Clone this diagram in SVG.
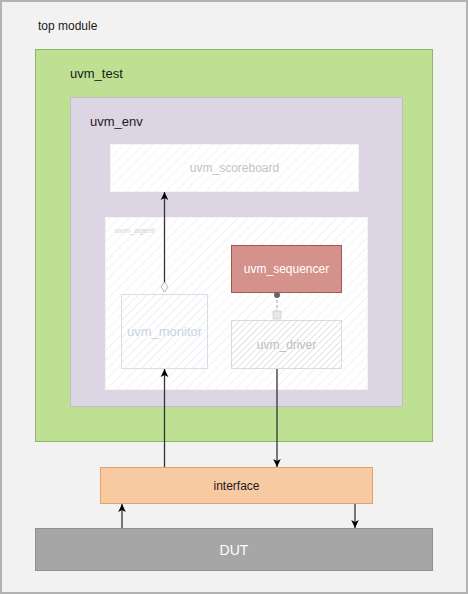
<svg xmlns="http://www.w3.org/2000/svg" width="468" height="594" viewBox="0 0 468 594">
<style>
text{font-family:"Liberation Sans",Arial,sans-serif;}
.lbl{font-size:12px;fill:#1a1a1a;}
.ctr{text-anchor:middle;dominant-baseline:central;}
.conn{stroke:#333;stroke-width:1.3;fill:none;}
</style>
<defs>
<pattern id="hAgent" patternUnits="userSpaceOnUse" width="7" height="7" patternTransform="rotate(45)">
<rect width="7" height="7" fill="#ffffff"/><line x1="0" y1="0" x2="0" y2="7" stroke="#e6e6e6" stroke-width="1"/>
</pattern>
<pattern id="hScore" patternUnits="userSpaceOnUse" width="7" height="7" patternTransform="rotate(45)">
<rect width="7" height="7" fill="#ffffff"/><line x1="0" y1="0" x2="0" y2="7" stroke="#ececec" stroke-width="1"/>
</pattern>
<pattern id="hMon" patternUnits="userSpaceOnUse" width="6" height="6" patternTransform="rotate(45)">
<rect width="6" height="6" fill="#ffffff"/><line x1="0" y1="0" x2="0" y2="6" stroke="#d8e0ea" stroke-width="1"/>
</pattern>
<pattern id="hDrv" patternUnits="userSpaceOnUse" width="4.5" height="4.5" patternTransform="rotate(45)">
<line x1="0" y1="0" x2="0" y2="4.5" stroke="#c6c6c6" stroke-width="1"/>
</pattern>
<marker id="arr" markerWidth="10" markerHeight="10" refX="9" refY="5" orient="auto" markerUnits="userSpaceOnUse">
<path d="M1,1.2 L9,5 L1,8.8 L3,5 Z" fill="#000"/>
</marker>
<marker id="dia" markerWidth="12" markerHeight="12" refX="1" refY="6" orient="auto" markerUnits="userSpaceOnUse">
<path d="M1,6 L6,2.5 L11,6 L6,9.5 Z" fill="#fafafa" stroke="#bbbbbb" stroke-width="1"/>
</marker>
<marker id="dot" markerWidth="10" markerHeight="10" refX="5" refY="5" orient="auto" markerUnits="userSpaceOnUse">
<circle cx="5" cy="5" r="3" fill="#666"/>
</marker>
<marker id="sq" markerWidth="10" markerHeight="10" refX="9" refY="5" orient="auto" markerUnits="userSpaceOnUse">
<rect x="1" y="1" width="8" height="8" fill="#e6e6e6" stroke="#d0d0d0" stroke-width="0.8"/>
</marker>
</defs>
<rect x="0" y="0" width="468" height="594" fill="#f2f2f2"/>
<rect x="1" y="1" width="466" height="592" fill="none" stroke="#b3b3b3" stroke-width="2"/>
<g id="top_module">
<text x="38" y="30" class="lbl">top module</text>
</g>
<g id="uvm_test">
<rect x="35.5" y="49.5" width="397" height="392" fill="#bde092" stroke="#8fb56a" stroke-width="1"/>
<text x="70" y="78" class="lbl" style="font-size:13px">uvm_test</text>
</g>
<g id="uvm_env">
<rect x="70.5" y="97.5" width="332" height="309" fill="#dcd6e4" stroke="#c3bdc9" stroke-width="1"/>
<text x="90" y="126" class="lbl" style="font-size:13px">uvm_env</text>
</g>
<g id="uvm_scoreboard">
<rect x="110.5" y="144.5" width="248" height="47" fill="url(#hScore)" stroke="#f4f4f4" stroke-width="1"/>
<text x="234.5" y="168" class="ctr" style="font-size:12px;fill:#c4c4c4">uvm_scoreboard</text>
</g>
<g id="uvm_agent">
<rect x="105.5" y="217.5" width="262" height="172" fill="url(#hAgent)" stroke="#f4f4f4" stroke-width="1"/>
<text x="115" y="233" style="font-size:8px;fill:#c8d4e0">uvm_agent</text>
</g>
<g id="uvm_sequencer">
<rect x="231.5" y="245.5" width="110" height="47" fill="#d5928c" stroke="#a65550" stroke-width="1"/>
<text x="286.5" y="269" class="ctr" style="font-size:12px;fill:#ffffff">uvm_sequencer</text>
</g>
<g id="uvm_monitor">
<rect x="121.5" y="294.5" width="86" height="74" fill="url(#hMon)" stroke="#d6dee8" stroke-width="1"/>
<text x="164.5" y="331.5" class="ctr" style="font-size:13px;fill:#c8d4e2">uvm_monitor</text>
</g>
<g id="uvm_driver">
<rect x="231.5" y="320.5" width="110" height="48" fill="#ffffff" stroke="#dcdcdc" stroke-width="1"/>
<text x="286.5" y="344.5" class="ctr" style="font-size:12px;fill:#bdbdbd">uvm_driver</text>
<rect x="231.5" y="320.5" width="110" height="48" fill="url(#hDrv)" stroke="none"/>
</g>
<g id="interface">
<rect x="100.5" y="467.5" width="272" height="36" fill="#f8caa2" stroke="#e3a266" stroke-width="1"/>
<text x="236.5" y="485.5" class="ctr" style="font-size:12px;fill:#1a1a1a">interface</text>
</g>
<g id="DUT">
<rect x="35.5" y="528.5" width="397" height="42" fill="#a6a6a6" stroke="#909090" stroke-width="1"/>
<text x="234" y="549.5" class="ctr" style="font-size:14px;fill:#ffffff">DUT</text>
</g>
<g id="connectors">
<line x1="164.5" y1="292" x2="164.5" y2="192" class="conn" marker-start="url(#dia)" marker-end="url(#arr)"/>
<line x1="164.5" y1="467" x2="164.5" y2="369" class="conn" marker-end="url(#arr)"/>
<line x1="277" y1="369" x2="277" y2="467" class="conn" marker-end="url(#arr)"/>
<line x1="122" y1="528" x2="122" y2="504" class="conn" marker-end="url(#arr)"/>
<line x1="355" y1="504" x2="355" y2="528" class="conn" marker-end="url(#arr)"/>
<line x1="277" y1="295" x2="277" y2="319" stroke="#a0a0a0" stroke-width="1" stroke-dasharray="3,2" marker-start="url(#dot)" marker-end="url(#sq)"/>
</g>
</svg>
